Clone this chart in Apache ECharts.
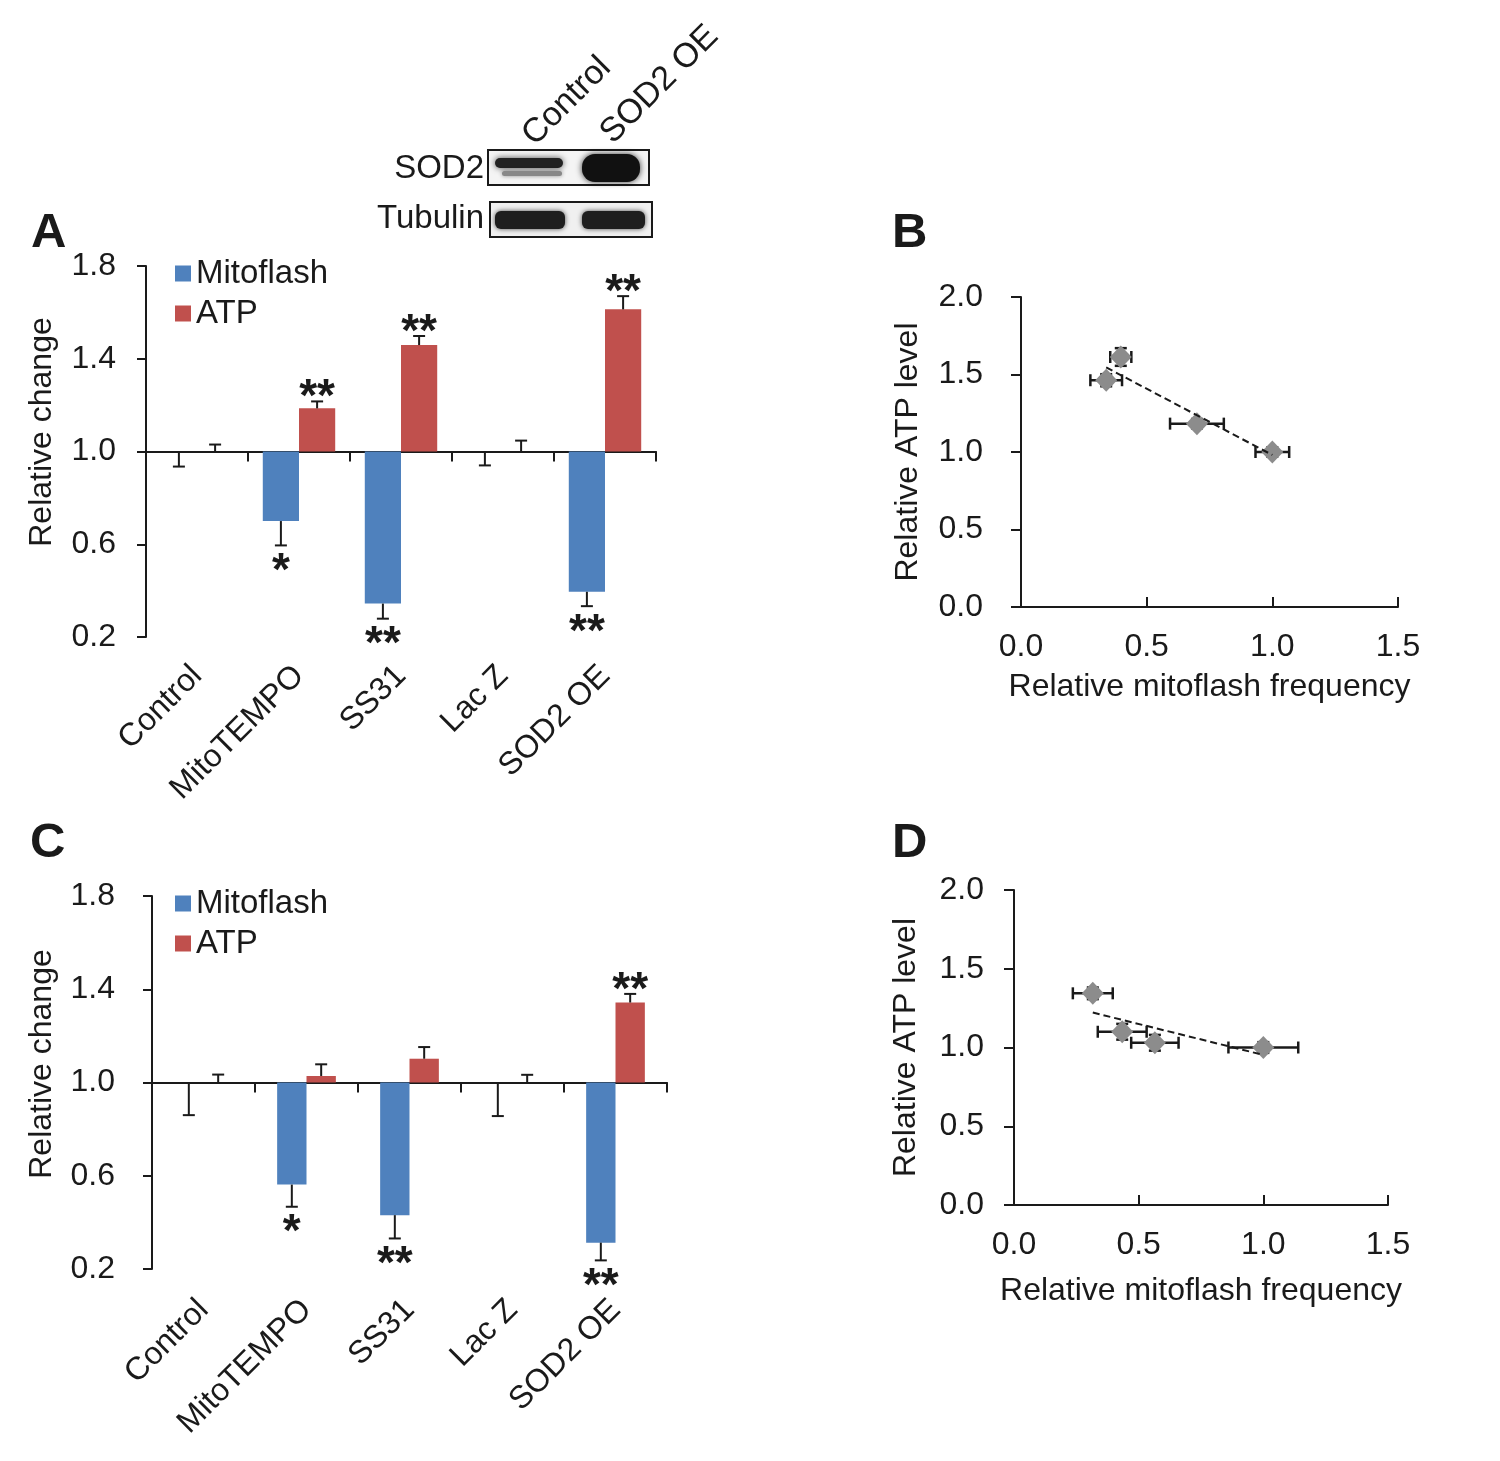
<!DOCTYPE html>
<html>
<head>
<meta charset="utf-8">
<title>Mitoflash vs ATP</title>
<script src="https://cdn.jsdelivr.net/npm/echarts@6/dist/echarts.min.js"></script>
<style>
  html, body { margin: 0; padding: 0; background: #fff; }
  #chart { width: 1500px; height: 1461px; }
</style>
</head>
<body>
<div id="chart"></div>
<script>
// ---- data ----
const categories = ['Control', 'MitoTEMPO', 'SS31', 'Lac Z', 'SOD2 OE'];
const yTicks = [0.2, 0.6, 1.0, 1.4, 1.8];

// panel A
const mitoA = [1.0, 0.70, 0.344, 1.0, 0.395];
const mitoErrA = [0.065, 0.105, 0.065, 0.06, 0.062];
const atpA = [1.0, 1.186, 1.459, 1.0, 1.613];
const atpErrA = [0.03, 0.03, 0.039, 0.047, 0.057];
const mitoSigA = ['', '*', '**', '', '**'];
const atpSigA = ['', '**', '**', '', '**'];

// panel C
const mitoC = [1.0, 0.562, 0.431, 1.0, 0.313];
const mitoErrC = [0.14, 0.095, 0.10, 0.144, 0.076];
const atpC = [1.0, 1.028, 1.102, 1.0, 1.343];
const atpErrC = [0.034, 0.05, 0.05, 0.033, 0.037];
const mitoSigC = ['', '*', '**', '', '**'];
const atpSigC = ['', '', '', '', '**'];

// panel B (control, MitoTEMPO, SS31, SOD2 OE)
const freqB = [1.0, 0.70, 0.339, 0.397];
const atpB = [1.0, 1.183, 1.463, 1.613];
const freqErrB = [0.067, 0.107, 0.063, 0.042];
const atpLvlErrB = [0.03, 0.03, 0.039, 0.057];

// panel D
const freqD = [1.0, 0.565, 0.434, 0.316];
const atpD = [1.0, 1.03, 1.10, 1.344];
const freqErrD = [0.14, 0.095, 0.098, 0.08];
const atpLvlErrD = [0.034, 0.05, 0.05, 0.037];

const blotRows = ['SOD2', 'Tubulin'];
const blotLanes = ['Control', 'SOD2 OE'];

// ---- styling ----
const FONT = '"Liberation Sans", Arial, Helvetica, sans-serif';
const INK = '#1a1a1a';
const BLUE = '#4f81bd';
const RED = '#c0504d';
const GREY = '#8c8c8c';

const chart = echarts.init(document.getElementById('chart'));

// bars are drawn relative to 1.0 so the category axis sits on the 1.0 line
const shift = arr => arr.map(v => +(v - 1).toFixed(4));

function mainCatAxis(gridIndex) {
  return {
    type: 'category', gridIndex, data: categories,
    axisLine: { onZero: true, lineStyle: { color: INK, width: 2 } },
    axisTick: { show: true, length: 10, lineStyle: { color: INK, width: 2 } },
    axisLabel: { show: false },
    splitLine: { show: false }
  };
}

function labelCatAxis(gridIndex, margin) {
  return {
    type: 'category', gridIndex, data: categories, position: 'bottom',
    axisLine: { show: false, onZero: false },
    axisTick: { show: false },
    axisLabel: { rotate: 45, margin, fontSize: 32, color: INK, fontFamily: FONT, interval: 0 },
    splitLine: { show: false }
  };
}

function changeAxis(gridIndex, margin) {
  return {
    type: 'value', gridIndex,
    min: yTicks[0] - 1, max: yTicks[yTicks.length - 1] - 1, interval: 0.4,
    axisLine: { show: true, lineStyle: { color: INK, width: 2 } },
    axisTick: { show: true, length: 9, lineStyle: { color: INK, width: 2 } },
    axisLabel: { margin, fontSize: 32, color: INK, fontFamily: FONT, formatter: v => (v + 1).toFixed(1) },
    splitLine: { show: false }
  };
}

function scatterAxis(gridIndex, max, inside, margin, name, nameGap) {
  return {
    type: 'value', gridIndex, min: 0, max, interval: 0.5,
    name, nameLocation: 'middle', nameGap,
    nameTextStyle: { fontSize: 32, color: INK, fontFamily: FONT },
    axisLine: { show: true, lineStyle: { color: INK, width: 2 } },
    axisTick: { show: true, inside, length: 10, lineStyle: { color: INK, width: 2 } },
    axisLabel: { margin, fontSize: 32, color: INK, fontFamily: FONT, formatter: v => v.toFixed(1) },
    splitLine: { show: false }
  };
}

function barSeries(name, color, values, xIdx, yIdx, gap) {
  return {
    name, type: 'bar', xAxisIndex: xIdx, yAxisIndex: yIdx,
    data: shift(values), barGap: '0%', barCategoryGap: gap,
    itemStyle: { color }, silent: true
  };
}

// error whisker + significance stars; side -1 = left bar going down, +1 = right bar going up
function barErrorSeries(values, errs, sigs, side, xIdx, yIdx, gapFrac) {
  return {
    type: 'custom', xAxisIndex: xIdx, yAxisIndex: yIdx, z: 5, silent: true,
    data: values.map((v, i) => [i, v - 1, errs[i]]),
    renderItem(params, api) {
      const i = api.value(0), v = api.value(1), e = api.value(2);
      const band = api.size([1, 0])[0];
      const bw = band * (1 - gapFrac) / 2;
      const x = api.coord([i, v])[0] + side * bw / 2;
      const y0 = api.coord([i, v])[1];
      const y1 = api.coord([i, v + side * e])[1];
      const st = { stroke: INK, lineWidth: 2 };
      const kids = [
        { type: 'line', shape: { x1: x, y1: y0, x2: x, y2: y1 }, style: st },
        { type: 'line', shape: { x1: x - 6, y1: y1, x2: x + 6, y2: y1 }, style: st }
      ];
      const sig = sigs[params.dataIndex];
      if (sig) {
        kids.push({
          type: 'text',
          style: {
            text: sig, x, y: side < 0 ? y1 + 27 : y1 - 3,
            align: 'center', verticalAlign: 'middle',
            font: 'bold 46px ' + FONT, fill: INK
          }
        });
      }
      return { type: 'group', children: kids };
    }
  };
}

function scatterErrorSeries(xs, ys, xe, ye, xIdx, yIdx) {
  return {
    type: 'custom', xAxisIndex: xIdx, yAxisIndex: yIdx, z: 3, silent: true,
    data: xs.map((x, i) => [x, ys[i], xe[i], ye[i]]),
    renderItem(params, api) {
      const x = api.value(0), y = api.value(1), ex = api.value(2), ey = api.value(3);
      const l = api.coord([x - ex, y]), r = api.coord([x + ex, y]);
      const t = api.coord([x, y + ey]), b = api.coord([x, y - ey]);
      const st = { stroke: INK, lineWidth: 2.5 };
      const c = 6;
      const seg = (x1, y1, x2, y2) => ({ type: 'line', shape: { x1, y1, x2, y2 }, style: st });
      return {
        type: 'group',
        children: [
          seg(l[0], l[1], r[0], r[1]),
          seg(l[0], l[1] - c, l[0], l[1] + c),
          seg(r[0], r[1] - c, r[0], r[1] + c),
          seg(t[0], t[1], b[0], b[1]),
          seg(t[0] - c, t[1], t[0] + c, t[1]),
          seg(b[0] - c, b[1], b[0] + c, b[1])
        ]
      };
    }
  };
}

// least-squares trend line across the range of the points
function trend(xs, ys) {
  const n = xs.length;
  const mx = xs.reduce((a, b) => a + b, 0) / n;
  const my = ys.reduce((a, b) => a + b, 0) / n;
  let sxy = 0, sxx = 0;
  xs.forEach((x, i) => { sxy += (x - mx) * (ys[i] - my); sxx += (x - mx) * (x - mx); });
  const k = sxy / sxx;
  const lo = Math.min(...xs), hi = Math.max(...xs);
  return [[lo, my + k * (lo - mx)], [hi, my + k * (hi - mx)]];
}

function scatterSeries(xs, ys, xIdx, yIdx) {
  return {
    type: 'scatter', xAxisIndex: xIdx, yAxisIndex: yIdx, z: 4, silent: true,
    symbol: 'diamond', symbolSize: [22, 23],
    itemStyle: { color: GREY, opacity: 1 },
    data: xs.map((x, i) => [x, ys[i]])
  };
}

function trendSeries(xs, ys, xIdx, yIdx) {
  return {
    type: 'line', xAxisIndex: xIdx, yAxisIndex: yIdx, z: 6, silent: true,
    symbol: 'none', data: trend(xs, ys),
    lineStyle: { color: INK, width: 2, type: [7, 4] }
  };
}

function legendAt(top) {
  return {
    data: ['Mitoflash', 'ATP'], orient: 'vertical', left: 170, top,
    icon: 'rect', itemWidth: 16, itemHeight: 16, itemGap: 7,
    selectedMode: false,
    textStyle: { fontSize: 33, color: INK, fontFamily: FONT }
  };
}

function txt(text, x, y, size, opts) {
  return Object.assign({
    type: 'text', x, y, silent: true,
    style: Object.assign({ text, font: size + 'px ' + FONT, fill: INK, align: 'left', verticalAlign: 'middle' }, (opts && opts.style) || {})
  }, opts && opts.rotation ? { rotation: opts.rotation } : {});
}

// western blot inset
const blot = [
  { type: 'rect', shape: { x: 488, y: 150, width: 161, height: 35 }, style: { fill: '#f4f4f4', stroke: INK, lineWidth: 2 } },
  { type: 'rect', shape: { x: 490, y: 202, width: 162, height: 35 }, style: { fill: '#f0f0f0', stroke: INK, lineWidth: 2 } },
  { type: 'rect', shape: { x: 495, y: 158, width: 68, height: 10, r: 5 }, style: { fill: '#222', shadowBlur: 6, shadowColor: 'rgba(0,0,0,0.7)' } },
  { type: 'rect', shape: { x: 502, y: 171, width: 60, height: 5, r: 3 }, style: { fill: '#888', shadowBlur: 4, shadowColor: 'rgba(0,0,0,0.4)' } },
  { type: 'rect', shape: { x: 582, y: 154, width: 58, height: 28, r: 13 }, style: { fill: '#111', shadowBlur: 6, shadowColor: 'rgba(0,0,0,0.8)' } },
  { type: 'rect', shape: { x: 495, y: 211, width: 70, height: 18, r: 6 }, style: { fill: '#1e1e1e', shadowBlur: 5, shadowColor: 'rgba(0,0,0,0.7)' } },
  { type: 'rect', shape: { x: 582, y: 211, width: 63, height: 18, r: 6 }, style: { fill: '#1e1e1e', shadowBlur: 5, shadowColor: 'rgba(0,0,0,0.7)' } },
  txt(blotRows[0], 484, 169, 33, { style: { align: 'right' } }),
  txt(blotRows[1], 484, 219, 33, { style: { align: 'right' } }),
  txt(blotLanes[0], 528, 140, 34, { rotation: Math.PI / 4 }),
  txt(blotLanes[1], 606, 138, 34, { rotation: Math.PI / 4 })
];

const panelFont = 'bold 49px ' + FONT;
const labels = [
  txt('A', 31, 233, 49, { style: { font: panelFont } }),
  txt('B', 892, 233, 49, { style: { font: panelFont } }),
  txt('C', 30, 843, 49, { style: { font: panelFont } }),
  txt('D', 892, 843, 49, { style: { font: panelFont } }),
  txt('Relative change', 42, 432, 32, { rotation: Math.PI / 2, style: { align: 'center' } }),
  txt('Relative change', 42, 1064, 32, { rotation: Math.PI / 2, style: { align: 'center' } })
];

const option = {
  animation: false,
  backgroundColor: '#fff',
  textStyle: { fontFamily: FONT },
  grid: [
    { left: 146, top: 266, width: 510, height: 371 },   // A
    { left: 1021, top: 297, width: 377, height: 310 },  // B
    { left: 152, top: 896, width: 515, height: 373 },   // C
    { left: 1014, top: 890, width: 374, height: 315 }   // D
  ],
  legend: [legendAt(252), legendAt(882)],
  xAxis: [
    mainCatAxis(0),
    labelCatAxis(0, 34),
    mainCatAxis(2),
    labelCatAxis(2, 36),
    scatterAxis(1, 1.5, true, 24, 'Relative mitoflash frequency', 64),
    scatterAxis(3, 1.5, true, 24, 'Relative mitoflash frequency', 70)
  ],
  yAxis: [
    changeAxis(0, 30),
    scatterAxis(1, 2.0, false, 38, 'Relative ATP level', 97),
    changeAxis(2, 37),
    scatterAxis(3, 2.0, false, 30, 'Relative ATP level', 92)
  ],
  graphic: { elements: blot.concat(labels) },
  series: [
    barSeries('Mitoflash', BLUE, mitoA, 0, 0, '29%'),
    barSeries('ATP', RED, atpA, 0, 0, '29%'),
    barErrorSeries(mitoA, mitoErrA, mitoSigA, -1, 0, 0, 0.29),
    barErrorSeries(atpA, atpErrA, atpSigA, 1, 0, 0, 0.29),

    barSeries('Mitoflash', BLUE, mitoC, 2, 2, '43%'),
    barSeries('ATP', RED, atpC, 2, 2, '43%'),
    barErrorSeries(mitoC, mitoErrC, mitoSigC, -1, 2, 2, 0.43),
    barErrorSeries(atpC, atpErrC, atpSigC, 1, 2, 2, 0.43),

    scatterErrorSeries(freqB, atpB, freqErrB, atpLvlErrB, 4, 1),
    scatterSeries(freqB, atpB, 4, 1),
    trendSeries(freqB, atpB, 4, 1),

    scatterErrorSeries(freqD, atpD, freqErrD, atpLvlErrD, 5, 3),
    scatterSeries(freqD, atpD, 5, 3),
    trendSeries(freqD, atpD, 5, 3)
  ]
};

chart.setOption(option);
</script>
</body>
</html>
